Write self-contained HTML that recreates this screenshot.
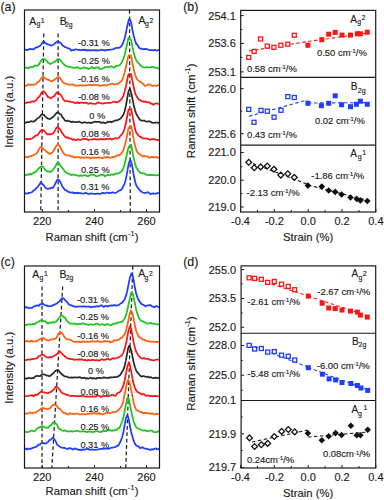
<!DOCTYPE html><html><head><meta charset="utf-8"><style>html,body{margin:0;padding:0;background:#fff;overflow:hidden}svg{display:block}</style></head><body><svg width="384" height="500" viewBox="0 0 384 500" font-family='"Liberation Sans", sans-serif'>
<rect width="384" height="500" fill="#fff"/>
<text x="0.4" y="11.2" font-size="12.4" text-anchor="start" fill="#1c1c1c" stroke="#1c1c1c" stroke-width="0.15" >(a)</text>
<text x="183.2" y="11.2" font-size="12.4" text-anchor="start" fill="#1c1c1c" stroke="#1c1c1c" stroke-width="0.15" >(b)</text>
<text x="0.4" y="265.6" font-size="12.4" text-anchor="start" fill="#1c1c1c" stroke="#1c1c1c" stroke-width="0.15" >(c)</text>
<text x="183.2" y="265.6" font-size="12.4" text-anchor="start" fill="#1c1c1c" stroke="#1c1c1c" stroke-width="0.15" >(d)</text>
<defs><clipPath id="clipa"><rect x="24.5" y="10" width="135.0" height="202"/></clipPath></defs>
<g clip-path="url(#clipa)">
<line x1="43.8" y1="33.5" x2="40.7" y2="212" stroke="#1e1e1e" stroke-width="1.25" stroke-dasharray="3.8,2.6"/>
<line x1="58.1" y1="33.5" x2="58.1" y2="212" stroke="#1e1e1e" stroke-width="1.25" stroke-dasharray="3.8,2.6"/>
<line x1="129.5" y1="10" x2="130.3" y2="212" stroke="#1e1e1e" stroke-width="1.25" stroke-dasharray="3.8,2.6"/>
<polyline points="24.5,49.39 25.8,49.76 27.1,50.13 28.4,49.6 29.7,48.93 31,49.05 32.3,49.2 33.6,49.34 34.9,48.19 36.2,47.31 37.5,47.28 38.8,46.52 40.1,45.76 41.4,44.19 42.7,42.28 43.8,41.44 45.3,43.16 46.6,43.72 47.9,44.37 49.2,44.76 50.5,45.43 51.8,45.51 53.1,44.84 54.4,43.91 55.7,42.73 57,41.72 58.1,41.63 59.6,42.37 60.9,43.06 62.2,45.26 63.5,45.88 64.8,47.03 66.1,47.25 67.4,48.14 68.7,48.35 70,48.96 71.3,50.62 72.6,50.02 73.9,50.18 75.2,49.38 76.5,49.49 77.8,49.97 79.1,49.89 80.4,50.07 81.7,50.05 83,49.59 84.3,50.06 85.6,49.69 86.9,50.66 88.2,50.1 89.5,50.35 90.8,50.18 92.1,50.49 93.4,49.98 94.7,50.41 96,50.13 97.3,50.57 98.6,50.49 99.9,50.23 101.2,49.71 102.5,50.1 103.8,50.12 105.1,50.59 106.4,49.91 107.7,49.95 109,49.89 110.3,49.7 111.6,49.49 112.9,49.27 114.2,48.71 115.5,48.11 116.8,47.86 118.1,47.83 119.4,47.74 120.7,46.74 122,45.15 123.3,42.49 124.6,38.53 125.9,32.85 127.2,26.36 128.5,20.94 129.5,18.52 131.1,22.25 132.4,29.77 133.7,35.66 135,40.54 136.3,43.81 137.6,45.07 138.9,47.53 140.2,48.62 141.5,48.64 142.8,49.06 144.1,49.11 145.4,48.81 146.7,49.09 148,49.49 149.3,50.05 150.6,50.17 151.9,50 153.2,50.51 154.5,49.88 155.8,50.27 157.1,50.61 158.4,50.19 159.7,49.39" fill="none" stroke="#1f3cff" stroke-width="1.75" stroke-linejoin="round"/>
<polyline points="24.5,67.48 25.8,67.7 27.1,67.86 28.4,68.29 29.7,67.31 31,67.17 32.3,67.22 33.6,66.7 34.9,65.26 36.2,65.56 37.5,65.79 38.8,64.6 40.1,62.27 41.4,60.28 42.7,58.8 43.8,59.2 45.3,59.65 46.6,60.8 47.9,62.64 49.2,63.08 50.5,64.12 51.8,63.29 53.1,62.52 54.4,61.91 55.7,61.01 57,59.61 58.1,59.04 59.6,59.09 60.9,60.82 62.2,62.51 63.5,63.85 64.8,65.29 66.1,65.8 67.4,66.68 68.7,66.92 70,66.97 71.3,67.26 72.6,67.6 73.9,67.98 75.2,67.64 76.5,67.62 77.8,67.17 79.1,68.24 80.4,68.68 81.7,68.2 83,67.88 84.3,67.42 85.6,67.82 86.9,68.02 88.2,68.94 89.5,68.54 90.8,67.93 92.1,66.96 93.4,68.13 94.7,68.14 96,67.38 97.3,67.78 98.6,67.2 99.9,69.05 101.2,68.88 102.5,68.54 103.8,68.05 105.1,66.97 106.4,67.29 107.7,66.78 109,67.4 110.3,66.45 111.6,66.45 112.9,67.24 114.2,67.63 115.5,66.43 116.8,65.51 118.1,65.78 119.4,65.42 120.7,63.75 122,61.96 123.3,59.32 124.6,55.17 125.9,49.78 127.2,43.86 128.5,37.78 131.1,40.19 132.4,46.34 133.7,52.51 135,57 136.3,60.57 137.6,62.36 138.9,63.38 140.2,65.16 141.5,66.48 142.8,66.99 144.1,67.56 145.4,67.48 146.7,67.12 148,67.38 149.3,67.36 150.6,67.1 151.9,66.78 153.2,66.76 154.5,67.41 155.8,67.79 157.1,67.73 158.4,68.52 159.7,68.37" fill="none" stroke="#1ec41e" stroke-width="1.75" stroke-linejoin="round"/>
<polyline points="24.5,85.65 25.8,85.95 27.1,85.18 28.4,84.27 29.7,84.92 31,84.5 32.3,85 33.6,84.63 34.9,84.48 36.2,83.96 37.5,82.03 38.8,81.64 40.1,79.98 41.4,78.22 42.7,76.96 43.5,77.18 44,77.52 45.3,78.59 46.6,78.88 47.9,79.98 49.2,79.94 50.5,80.84 51.8,81.31 53.1,80.48 54.4,79.82 55.7,78.65 57,77.84 58.1,76.89 59.6,77.55 60.9,79 62.2,81.51 63.5,82.86 64.8,83.28 66.1,83.85 67.4,84.23 68.7,84.56 70,84.63 71.3,84.69 72.6,84.39 73.9,84.57 75.2,85.65 76.5,85.7 77.8,85.55 79.1,85.39 80.4,85.45 81.7,85.61 83,85.28 84.3,85.49 85.6,85.61 86.9,85.25 88.2,85.08 89.5,84.91 90.8,84.81 92.1,85.58 93.4,84.55 94.7,84.97 96,85 97.3,84.99 98.6,85.28 99.9,85.83 101.2,85.61 102.5,85.39 103.8,85.07 105.1,85.09 106.4,85.5 107.7,85.08 109,84.52 110.3,84.14 111.6,83.95 112.9,83.63 114.2,84.4 115.5,84.25 116.8,83.69 118.1,83.83 119.4,82.54 120.7,81.83 122,80.39 123.3,76.95 124.6,72.69 125.9,67.31 127.2,61.3 128.5,55.38 131.1,55.61 132.4,62.96 133.7,69.25 135,74.24 136.3,77.67 137.6,80.03 138.9,80.89 140.2,81.91 141.5,82.49 142.8,83.64 144.1,84.97 145.4,85.96 146.7,85.2 148,84.36 149.3,84.6 150.6,84.53 151.9,85.78 153.2,85.78 154.5,85.27 155.8,85.77 157.1,85.86 158.4,85.01 159.7,85.1" fill="none" stroke="#ff6010" stroke-width="1.75" stroke-linejoin="round"/>
<polyline points="24.5,102.82 25.8,102.78 27.1,102.72 28.4,102.4 29.7,102.35 31,101.84 32.3,101.28 33.6,101.75 34.9,101.11 36.2,100.32 37.5,98.38 38.8,97.1 40.1,95.63 41.4,92.75 42.7,91.79 43.3,91.22 44,91.6 45.3,92.92 46.6,94.9 47.9,96.9 49.2,97.4 50.5,98.44 51.8,97.62 53.1,96.61 54.4,95.95 55.7,93.82 57,92.38 58.1,92.5 59.6,94.08 60.9,94.97 62.2,97.35 63.5,99.64 64.8,100.8 66.1,101.01 67.4,101.17 68.7,101.53 70,101.47 71.3,101.91 72.6,102.22 73.9,102.44 75.2,103.15 76.5,102.92 77.8,102.34 79.1,103.16 80.4,102.66 81.7,102.72 83,102.9 84.3,102.9 85.6,102.64 86.9,102.84 88.2,103.96 89.5,103.3 90.8,103.2 92.1,103.68 93.4,103.74 94.7,103.76 96,103.81 97.3,102.64 98.6,102.56 99.9,102.92 101.2,103.23 102.5,103.67 103.8,103.5 105.1,103.1 106.4,102.99 107.7,102.79 109,102.84 110.3,102.97 111.6,102.52 112.9,102.01 114.2,101.63 115.5,102.11 116.8,102.18 118.1,101.79 119.4,101.12 120.7,100.13 122,98.27 123.3,96.03 124.6,91.75 125.9,86.65 127.2,79.95 128.5,74.13 131.1,74.13 132.4,80.62 133.7,87.32 135,92.89 136.3,95.75 137.6,97.69 138.9,99.73 140.2,100.13 141.5,101.17 142.8,101.38 144.1,101.81 145.4,101.39 146.7,102.36 148,102.36 149.3,102.25 150.6,103.51 151.9,103.55 153.2,104.78 154.5,104.06 155.8,103.45 157.1,103.39 158.4,104.01 159.7,103.63" fill="none" stroke="#ff1414" stroke-width="1.75" stroke-linejoin="round"/>
<polyline points="24.5,122.68 25.8,122.71 27.1,122.06 28.4,122.12 29.7,121.79 31,121.19 32.3,121.64 33.6,121.53 34.9,120.91 36.2,119.78 37.5,118.21 38.8,117.74 40.1,116.4 41.4,114.54 42.3,114.58 44,114.88 45.3,116.47 46.6,117.75 47.9,118.6 49.2,118.9 50.5,118.8 51.8,117.78 53.1,116.96 54.4,115.57 55.7,113.92 57,112.56 58.1,112.31 59.6,113.98 60.9,114.39 62.2,116.83 63.5,118.3 64.8,120.41 66.1,121.07 67.4,120.49 68.7,121.25 70,121.33 71.3,122.09 72.6,121.65 73.9,121.91 75.2,122.07 76.5,122.19 77.8,122.07 79.1,121.52 80.4,122.26 81.7,122.84 83,122.66 84.3,122.2 85.6,122.51 86.9,122.81 88.2,122.63 89.5,122.63 90.8,123.22 92.1,122.42 93.4,122.3 94.7,121.67 96,121.88 97.3,121.95 98.6,121.87 99.9,121.93 101.2,122.99 102.5,122.6 103.8,122.43 105.1,123.29 106.4,122.69 107.7,121.67 109,122.04 110.3,121.58 111.6,122.36 112.9,121.39 114.2,121.09 115.5,120.35 116.8,120.5 118.1,119.78 119.4,119.41 120.7,118.41 122,116.77 123.3,114.94 124.6,111.48 125.9,105.88 127.2,98.52 128.5,91.38 129.85,88.51 131.1,92.46 132.4,98.47 133.7,104.93 135,110.26 136.3,113.87 137.6,116.34 138.9,118.24 140.2,120.09 141.5,120.55 142.8,120.72 144.1,120.49 145.4,121.27 146.7,121.61 148,121.35 149.3,121.35 150.6,121.85 151.9,122.57 153.2,122.77 154.5,122.72 155.8,122.5 157.1,122.7 158.4,122.67 159.7,123.6" fill="none" stroke="#2a2a2a" stroke-width="1.75" stroke-linejoin="round"/>
<polyline points="24.5,138.84 25.8,138.83 27.1,139.43 28.4,138.94 29.7,139.3 31,138.66 32.3,138.21 33.6,137.47 34.9,136.26 36.2,135.26 37.5,135.29 38.8,133.52 40.1,131.52 41.4,130.12 42.1,129.7 42.7,129.96 44,130.66 45.3,132.1 46.6,133.89 47.9,134.4 49.2,134.22 50.5,134.37 51.8,133.84 53.1,133.31 54.4,131.39 55.7,129.07 57,127.37 58.1,127.66 59.6,128.7 60.9,130.92 62.2,133.03 63.5,134.83 64.8,136.38 66.1,137.61 67.4,137.13 68.7,138.36 70,138.48 71.3,138.51 72.6,139.76 73.9,139.32 75.2,140.06 76.5,140.04 77.8,139.22 79.1,139.53 80.4,139.8 81.7,139.58 83,138.57 84.3,138.97 85.6,139.22 86.9,138.96 88.2,140.08 89.5,139.72 90.8,139.5 92.1,139.44 93.4,139.21 94.7,139.1 96,139.41 97.3,139.63 98.6,139.38 99.9,139.42 101.2,138.88 102.5,139.41 103.8,139.09 105.1,139.32 106.4,138.91 107.7,138.85 109,139.07 110.3,138.5 111.6,139.71 112.9,139.09 114.2,138.67 115.5,138.03 116.8,138.5 118.1,138.32 119.4,137.36 120.7,135.57 122,134.1 123.3,132.27 124.6,128.48 125.9,122.98 127.2,116.23 128.5,109.6 131.1,108.82 132.4,115.1 133.7,122.11 135,128.82 136.3,132.81 137.6,134.22 138.9,135.9 140.2,136.86 141.5,137.42 142.8,138.35 144.1,138.33 145.4,138.45 146.7,138.57 148,138.83 149.3,139.59 150.6,139.77 151.9,139.01 153.2,139.09 154.5,139.01 155.8,139.68 157.1,139.76 158.4,140.1 159.7,139.87" fill="none" stroke="#ff1414" stroke-width="1.75" stroke-linejoin="round"/>
<polyline points="24.5,156.5 25.8,157.02 27.1,157.06 28.4,157.08 29.7,156.19 31,156.17 32.3,155.58 33.6,154.96 34.9,154.62 36.2,153.78 37.5,151.95 38.8,149.65 40.1,147.32 41.5,146.9 42.7,148.36 44,149.73 45.3,150.26 46.6,151.51 47.9,152.75 49.2,153.75 50.5,153.71 51.8,152.82 53.1,151.52 54.4,149.22 55.7,147.05 57,145.13 58.1,144.33 59.6,145.97 60.9,148.24 62.2,150.78 63.5,153.14 64.8,154.4 66.1,155.18 67.4,155.5 68.7,155.3 70,155.94 71.3,156.63 72.6,156.37 73.9,157.28 75.2,157.08 76.5,157.34 77.8,157.2 79.1,156.78 80.4,158.02 81.7,157.24 83,157.78 84.3,157.42 85.6,157.63 86.9,157.27 88.2,157.28 89.5,157.85 90.8,158.54 92.1,157.68 93.4,157.65 94.7,158.02 96,157.52 97.3,157.85 98.6,157.36 99.9,157.7 101.2,157.77 102.5,158.1 103.8,157.87 105.1,157.08 106.4,157.47 107.7,156.85 109,157.29 110.3,157.74 111.6,157.48 112.9,156.77 114.2,157.05 115.5,156.58 116.8,155.55 118.1,155.17 119.4,155.32 120.7,154.02 122,152.6 123.3,150.15 124.6,146.01 125.9,141.16 127.2,135.03 128.5,128.27 131.1,126.26 132.4,131.74 133.7,139.7 135,145.58 136.3,149.82 137.6,152.68 138.9,153.73 140.2,154.45 141.5,155.4 142.8,156.58 144.1,155.85 145.4,156.25 146.7,156.33 148,156.98 149.3,157.72 150.6,157.38 151.9,156.87 153.2,157.23 154.5,157.28 155.8,156.81 157.1,157.64 158.4,157.45 159.7,157.89" fill="none" stroke="#ff6010" stroke-width="1.75" stroke-linejoin="round"/>
<polyline points="24.5,174.59 25.8,175.24 27.1,174.38 28.4,174.93 29.7,173.83 31,174.48 32.3,173.79 33.6,172.62 34.9,172.17 36.2,171.53 37.5,169.79 38.8,168.23 40.1,167.2 41,166.78 42.7,166.38 44,168.25 45.3,170.02 46.6,171.01 47.9,171.78 49.2,171.26 50.5,172.04 51.8,171.08 53.1,169.55 54.4,167.94 55.7,165.71 57,163.31 58.1,162.18 59.6,164.05 60.9,166.41 62.2,167.75 63.5,169.46 64.8,171.39 66.1,172.46 67.4,173.27 68.7,173.98 70,174.24 71.3,175.08 72.6,174.64 73.9,174.59 75.2,174.94 76.5,175.32 77.8,175.55 79.1,175.98 80.4,175.38 81.7,175.82 83,175.74 84.3,175.09 85.6,175.19 86.9,176.18 88.2,176.08 89.5,175.52 90.8,174.45 92.1,174.67 93.4,174.79 94.7,175.16 96,176.26 97.3,176.09 98.6,175.82 99.9,175.16 101.2,174.73 102.5,174.93 103.8,174.89 105.1,176.3 106.4,175.46 107.7,174.95 109,175.39 110.3,175.09 111.6,174.31 112.9,174.93 114.2,174.4 115.5,173.57 116.8,173.68 118.1,173.51 119.4,172.68 120.7,172.13 122,170.96 123.3,168.18 124.6,164.07 125.9,158.71 127.2,153.03 128.5,147.07 131.1,144.78 132.4,151.17 133.7,158.38 135,163.41 136.3,167.61 137.6,169.28 138.9,171.46 140.2,172.64 141.5,173.2 142.8,173.49 144.1,173.49 145.4,174.14 146.7,175 148,174.79 149.3,175.13 150.6,174.84 151.9,175.15 153.2,174.79 154.5,175.25 155.8,175.24 157.1,175.48 158.4,175.23 159.7,174.9" fill="none" stroke="#1ec41e" stroke-width="1.75" stroke-linejoin="round"/>
<polyline points="24.5,193.05 25.8,193.42 27.1,193.7 28.4,192.89 29.7,192.81 31,192.51 32.3,191.88 33.6,190.33 34.9,189.77 36.2,188.09 37.5,187.08 38.8,185.25 40.1,183.68 40.8,182.05 41.4,182.9 42.7,184.5 44,185.55 45.3,187.65 46.6,188.54 47.9,188.9 49.2,188.7 50.5,188.14 51.8,187.53 53.1,187.81 54.4,185.42 55.7,182.82 57,180.19 58.1,179.3 59.6,180.71 60.9,183.09 62.2,186.23 63.5,187.98 64.8,189.79 66.1,190.12 67.4,191.43 68.7,191.82 70,192.44 71.3,192.53 72.6,192.34 73.9,193.21 75.2,192.98 76.5,193.05 77.8,192.82 79.1,193.21 80.4,193.16 81.7,193.45 83,193.63 84.3,193.29 85.6,192.85 86.9,193.43 88.2,193.91 89.5,194.03 90.8,193.32 92.1,193.74 93.4,193.83 94.7,193.83 96,193.88 97.3,193.58 98.6,193.66 99.9,193.98 101.2,193.5 102.5,192.87 103.8,193.13 105.1,193.33 106.4,192.53 107.7,192.62 109,193.13 110.3,192.98 111.6,192.94 112.9,192.24 114.2,192.71 115.5,193.12 116.8,192.26 118.1,191.37 119.4,190.38 120.7,190.19 122,188.81 123.3,186.28 124.6,183.62 125.9,178.86 127.2,172.38 128.5,164.31 130.2,159.63 131.1,161.58 132.4,167.04 133.7,174.75 135,181.15 136.3,185.46 137.6,187.57 138.9,189.06 140.2,190.76 141.5,191.79 142.8,192.55 144.1,193.03 145.4,192.83 146.7,192.71 148,192.13 149.3,193.05 150.6,194.15 151.9,193.55 153.2,193.31 154.5,193.71 155.8,193.81 157.1,193.15 158.4,193.15 159.7,193.01" fill="none" stroke="#1f3cff" stroke-width="1.75" stroke-linejoin="round"/>
</g>
<rect x="24.5" y="10" width="135.0" height="202" fill="none" stroke="#1a1a1a" stroke-width="1.2"/>
<line x1="42.3" y1="212" x2="42.3" y2="209" stroke="#1a1a1a" stroke-width="1" />
<text x="42.3" y="224.6" font-size="11" text-anchor="middle" fill="#1c1c1c" stroke="#1c1c1c" stroke-width="0.15" >220</text>
<line x1="94.4" y1="212" x2="94.4" y2="209" stroke="#1a1a1a" stroke-width="1" />
<text x="94.4" y="224.6" font-size="11" text-anchor="middle" fill="#1c1c1c" stroke="#1c1c1c" stroke-width="0.15" >240</text>
<line x1="146.5" y1="212" x2="146.5" y2="209" stroke="#1a1a1a" stroke-width="1" />
<text x="146.5" y="224.6" font-size="11" text-anchor="middle" fill="#1c1c1c" stroke="#1c1c1c" stroke-width="0.15" >260</text>
<line x1="68.35" y1="212" x2="68.35" y2="210" stroke="#1a1a1a" stroke-width="1" />
<line x1="120.45" y1="212" x2="120.45" y2="210" stroke="#1a1a1a" stroke-width="1" />
<g transform="translate(77.9,45.7) scale(0.955,1)">
<text x="0" y="0" font-size="9.7" text-anchor="start" fill="#1c1c1c" stroke="#1c1c1c" stroke-width="0.15" >-0.31 %</text>
</g>
<g transform="translate(78.1,64.3) scale(0.955,1)">
<text x="0" y="0" font-size="9.7" text-anchor="start" fill="#1c1c1c" stroke="#1c1c1c" stroke-width="0.15" >-0.25 %</text>
</g>
<g transform="translate(77.9,81.7) scale(0.955,1)">
<text x="0" y="0" font-size="9.7" text-anchor="start" fill="#1c1c1c" stroke="#1c1c1c" stroke-width="0.15" >-0.16 %</text>
</g>
<g transform="translate(77.9,99.7) scale(0.955,1)">
<text x="0" y="0" font-size="9.7" text-anchor="start" fill="#1c1c1c" stroke="#1c1c1c" stroke-width="0.15" >-0.08 %</text>
</g>
<g transform="translate(89.2,118.7) scale(0.955,1)">
<text x="0" y="0" font-size="9.7" text-anchor="start" fill="#1c1c1c" stroke="#1c1c1c" stroke-width="0.15" >0 %</text>
</g>
<g transform="translate(80.9,136.5) scale(0.955,1)">
<text x="0" y="0" font-size="9.7" text-anchor="start" fill="#1c1c1c" stroke="#1c1c1c" stroke-width="0.15" >0.08 %</text>
</g>
<g transform="translate(80.9,154.5) scale(0.955,1)">
<text x="0" y="0" font-size="9.7" text-anchor="start" fill="#1c1c1c" stroke="#1c1c1c" stroke-width="0.15" >0.16 %</text>
</g>
<g transform="translate(80.9,172.5) scale(0.955,1)">
<text x="0" y="0" font-size="9.7" text-anchor="start" fill="#1c1c1c" stroke="#1c1c1c" stroke-width="0.15" >0.25 %</text>
</g>
<g transform="translate(80.8,190.3) scale(0.955,1)">
<text x="0" y="0" font-size="9.7" text-anchor="start" fill="#1c1c1c" stroke="#1c1c1c" stroke-width="0.15" >0.31 %</text>
</g>
<text x="92" y="241" font-size="11.3" text-anchor="middle" fill="#1c1c1c" stroke="#1c1c1c" stroke-width="0.15" >Raman shift (cm<tspan font-size="7.2" dy="-5.2" dx="0.3">-1</tspan><tspan dy="5.2" dx="0.2">)</tspan></text>
<text transform="translate(12.8,111.7) rotate(-90)" font-size="11.4" text-anchor="middle" fill="#1c1c1c" stroke="#1c1c1c" stroke-width="0.15">Intensity (a.u.)</text>
<text x="29.2" y="25.1" font-size="10.4" text-anchor="start" fill="#1c1c1c" stroke="#1c1c1c" stroke-width="0.15" >A</text>
<text x="36.4" y="26" font-size="6.8" text-anchor="start" fill="#1c1c1c" stroke="#1c1c1c" stroke-width="0.15" >g</text>
<text x="40.7" y="23.1" font-size="6.8" text-anchor="start" fill="#1c1c1c" stroke="#1c1c1c" stroke-width="0.15" >1</text>
<text x="59.8" y="25" font-size="10.4" text-anchor="start" fill="#1c1c1c" stroke="#1c1c1c" stroke-width="0.15" >B</text>
<text x="65" y="27.1" font-size="6.8" text-anchor="start" fill="#1c1c1c" stroke="#1c1c1c" stroke-width="0.15" >2g</text>
<text x="138.5" y="23.6" font-size="10.4" text-anchor="start" fill="#1c1c1c" stroke="#1c1c1c" stroke-width="0.15" >A</text>
<text x="145" y="25.9" font-size="6.8" text-anchor="start" fill="#1c1c1c" stroke="#1c1c1c" stroke-width="0.15" >g</text>
<text x="149.5" y="22.6" font-size="6.8" text-anchor="start" fill="#1c1c1c" stroke="#1c1c1c" stroke-width="0.15" >2</text>
<defs><clipPath id="clipc"><rect x="24.5" y="266" width="135.0" height="202"/></clipPath></defs>
<g clip-path="url(#clipc)">
<line x1="42" y1="286.5" x2="42" y2="468" stroke="#1e1e1e" stroke-width="1.25" stroke-dasharray="3.8,2.6"/>
<line x1="62.7" y1="286.5" x2="51.8" y2="468" stroke="#1e1e1e" stroke-width="1.25" stroke-dasharray="3.8,2.6"/>
<line x1="132.8" y1="266" x2="125.8" y2="468" stroke="#1e1e1e" stroke-width="1.25" stroke-dasharray="3.8,2.6"/>
<polyline points="24.5,307.9 25.8,307.09 27.1,307.36 28.4,307.89 29.7,308.07 31,307.9 32.3,307.83 33.6,306.49 34.9,306.12 36.2,305.59 37.5,305.27 38.8,306 40.1,304.16 41.4,304.09 42.7,303.48 44,304.66 45.3,305.49 46.6,305.28 47.9,306.34 49.2,305.98 50.5,306.27 51.8,305.87 53.1,305.13 54.4,304.59 55.7,304.03 57,303.48 58.3,302.19 59.6,301.52 60.9,299.28 62.3,298.08 63.5,298.41 64.8,299.8 66.1,301.09 67.4,302.46 68.7,304.24 70,304.95 71.3,305.35 72.6,305.89 73.9,306.54 75.2,306.72 76.5,306.93 77.8,306.52 79.1,306.5 80.4,306.3 81.7,306.53 83,306.35 84.3,306.47 85.6,306.62 86.9,306.68 88.2,306.69 89.5,306.61 90.8,307.33 92.1,306.96 93.4,306.51 94.7,306.81 96,306.4 97.3,306.21 98.6,306.6 99.9,306.03 101.2,305.1 102.5,306.14 103.8,306.9 105.1,306.07 106.4,305.99 107.7,306.54 109,305.66 110.3,305.67 111.6,305.47 112.9,305.72 114.2,304.98 115.5,305.72 116.8,305.45 118.1,305.3 119.4,304.68 120.7,303.24 122,302.8 123.3,301.14 124.6,299.43 125.9,295.92 127.2,291.18 128.5,284.79 129.8,278.16 131.5,273.42 132.4,274.31 133.7,280.5 135,288.28 136.3,294.1 137.6,297.8 138.9,300.64 140.2,302.36 141.5,304.01 142.8,304.62 144.1,305.23 145.4,306.43 146.7,305.59 148,305.46 149.3,305.19 150.6,305.2 151.9,306.29 153.2,306.59 154.5,307.33 155.8,306.19 157.1,306.17 158.4,307.16 159.7,307.45" fill="none" stroke="#1f3cff" stroke-width="1.75" stroke-linejoin="round"/>
<polyline points="24.5,324.93 25.8,325.03 27.1,324.69 28.4,324.46 29.7,324.32 31,324.51 32.3,324.06 33.6,323.91 34.9,324.11 36.2,322.83 37.5,322.01 38.8,321.69 40.1,320.67 41.4,320 42.7,320.91 44,321.19 45.3,321.46 46.6,322.5 47.9,323.7 49.2,322.76 50.5,322.48 51.8,322.57 53.1,322.1 54.4,322.75 55.7,321.89 57,320.44 58.3,319.25 59.6,317.11 60.9,315.45 62,315.19 63.5,317.22 64.8,317.45 66.1,319.56 67.4,321.46 68.7,322.41 70,323.58 71.3,323.67 72.6,323.72 73.9,323.73 75.2,323.51 76.5,324.52 77.8,323.84 79.1,324.02 80.4,323.96 81.7,323.86 83,323.23 84.3,323.73 85.6,324.19 86.9,324.41 88.2,324.81 89.5,324.58 90.8,324.27 92.1,324.53 93.4,324.8 94.7,324.26 96,323.75 97.3,323.72 98.6,324.57 99.9,324.92 101.2,324.27 102.5,324.38 103.8,324.71 105.1,325.04 106.4,324.32 107.7,324.14 109,324.7 110.3,325.33 111.6,325.17 112.9,323.9 114.2,323.9 115.5,323.47 116.8,323.22 118.1,322.66 119.4,322.23 120.7,321.86 122,321.92 123.3,320.64 124.6,318.61 125.9,315.43 127.2,310.62 128.5,304.67 129.8,298.36 131.1,293.06 131.8,292.67 132.4,292.87 133.7,297.67 135,303.79 136.3,310.36 137.6,314.19 138.9,318.29 140.2,319.81 141.5,321.13 142.8,321.4 144.1,322.08 145.4,322.37 146.7,323.49 148,323.73 149.3,323.32 150.6,322.89 151.9,323.54 153.2,323.71 154.5,323.56 155.8,324.25 157.1,324.26 158.4,324.42 159.7,324.22" fill="none" stroke="#1ec41e" stroke-width="1.75" stroke-linejoin="round"/>
<polyline points="24.5,341.5 25.8,341.41 27.1,340.86 28.4,341.51 29.7,341.68 31,340.8 32.3,341.11 33.6,341.6 34.9,341.32 36.2,341.47 37.5,340.65 38.8,340.11 40.1,339.02 41.4,338.54 42.7,338.05 44,338.5 45.3,339.4 46.6,340.03 47.9,340.58 49.2,340.33 50.5,339.6 51.8,339.64 53.1,339.07 54.4,339.11 55.7,338.48 57,336.81 58.3,334.11 59.6,332.48 60.5,332.34 62.2,333.26 63.5,335.4 64.8,337.26 66.1,338.68 67.4,339.39 68.7,339.48 70,339.71 71.3,340.25 72.6,341.2 73.9,341.81 75.2,341.89 76.5,341.72 77.8,341.81 79.1,341.95 80.4,342.23 81.7,342.2 83,341.19 84.3,341.8 85.6,341.85 86.9,341.52 88.2,341.79 89.5,341.82 90.8,341.68 92.1,340.94 93.4,341.36 94.7,341.73 96,341.63 97.3,340.93 98.6,341.47 99.9,341.81 101.2,341.72 102.5,341.76 103.8,341.43 105.1,341.12 106.4,341.45 107.7,341.19 109,341.25 110.3,342.52 111.6,341.95 112.9,341.37 114.2,340.26 115.5,340.36 116.8,340.52 118.1,339.75 119.4,339.31 120.7,337.84 122,337.71 123.3,336.13 124.6,334.33 125.9,331.34 127.2,325.92 128.5,319.87 129.8,313.44 131.1,310.34 132.4,313.02 133.7,318.97 135,326.07 136.3,331.25 137.6,334.04 138.9,336.78 140.2,337.78 141.5,338.18 142.8,339.71 144.1,339.52 145.4,340.6 146.7,340.79 148,341.26 149.3,341.38 150.6,341.76 151.9,341.65 153.2,341.74 154.5,341.68 155.8,342.04 157.1,341.6 158.4,342.02 159.7,342.44" fill="none" stroke="#ff6010" stroke-width="1.75" stroke-linejoin="round"/>
<polyline points="24.5,359.99 25.8,360.13 27.1,359.74 28.4,359.6 29.7,359.69 31,359.38 32.3,358.89 33.6,358.85 34.9,358.68 36.2,358.33 37.5,357.87 38.8,356.03 40.1,355.94 41.4,354.92 42.7,354.51 44,355.15 45.3,356.32 46.6,357.34 47.9,357.4 49.2,357.63 50.5,356.88 51.8,357.04 53.1,356.6 54.4,355.66 55.7,354.95 57,354.01 58.3,352.5 59.5,351.16 60.9,352.62 62.2,353.73 63.5,355.24 64.8,356.24 66.1,357.48 67.4,358.33 68.7,358.72 70,358.88 71.3,359.08 72.6,359.14 73.9,359.81 75.2,359.53 76.5,359.61 77.8,359.65 79.1,359.46 80.4,359.62 81.7,359.19 83,359.8 84.3,360.14 85.6,359.94 86.9,360.64 88.2,359.96 89.5,360.23 90.8,360.32 92.1,359.94 93.4,359.88 94.7,360.32 96,360.16 97.3,360.18 98.6,360.63 99.9,360.33 101.2,359.38 102.5,359.32 103.8,359.92 105.1,359.76 106.4,359.24 107.7,358.59 109,359.2 110.3,359.89 111.6,358.97 112.9,358.06 114.2,358.63 115.5,358.29 116.8,358.01 118.1,357.57 119.4,356.7 120.7,356.22 122,355.17 123.3,352.83 124.6,348.88 125.9,344.25 127.2,337.33 128.5,330.57 130,326.07 131.1,328.72 132.4,335.37 133.7,342.66 135,347.92 136.3,351.92 137.6,354.13 138.9,356.23 140.2,357.45 141.5,358.35 142.8,358.34 144.1,358.13 145.4,358.64 146.7,358.91 148,358.89 149.3,359.51 150.6,359.99 151.9,360.02 153.2,360.38 154.5,360.27 155.8,359.69 157.1,359.61 158.4,359.7 159.7,360.19" fill="none" stroke="#ff1414" stroke-width="1.75" stroke-linejoin="round"/>
<polyline points="24.5,378.58 25.8,378.38 27.1,378.62 28.4,377.93 29.7,377.86 31,378.43 32.3,378.16 33.6,378.18 34.9,376.81 36.2,376.06 37.5,375.77 38.8,376.03 40.1,376.01 41.4,374.86 42.7,374.32 44,374.42 45.3,374.77 46.6,375.62 47.9,375.58 49.2,376.29 50.5,375.79 51.8,374.46 53.1,373.49 54.4,371.94 55.7,370.74 57.3,370.01 58.3,370.02 59.6,371.77 60.9,373.41 62.2,374.5 63.5,375.52 64.8,376.42 66.1,376.6 67.4,376.68 68.7,377.62 70,377.61 71.3,377.42 72.6,377.82 73.9,377.25 75.2,377.65 76.5,377.28 77.8,377.52 79.1,377.08 80.4,377.34 81.7,378.13 83,378.06 84.3,377.6 85.6,378.62 86.9,378.1 88.2,378.74 89.5,378.2 90.8,377.57 92.1,378.64 93.4,378.18 94.7,378.45 96,378.75 97.3,377.83 98.6,377.97 99.9,377.75 101.2,378.12 102.5,378 103.8,377.41 105.1,377.65 106.4,378 107.7,377.67 109,377.82 110.3,377.36 111.6,377.25 112.9,377.26 114.2,377.03 115.5,377.21 116.8,376.91 118.1,376.4 119.4,375.62 120.7,374.28 122,371.92 123.3,369.88 124.6,366.4 125.9,360.39 127.2,353.15 128.5,346.96 129.5,345.61 131.1,349.79 132.4,356.05 133.7,362.55 135,367.23 136.3,370.72 137.6,372.67 138.9,373.96 140.2,375.78 141.5,376.63 142.8,376.08 144.1,376.23 145.4,376.63 146.7,376.92 148,376.72 149.3,377.62 150.6,377.05 151.9,377.79 153.2,378.16 154.5,377.92 155.8,377.73 157.1,377.96 158.4,378.12 159.7,377.29" fill="none" stroke="#2a2a2a" stroke-width="1.75" stroke-linejoin="round"/>
<polyline points="24.5,395.81 25.8,396.25 27.1,396.14 28.4,395.91 29.7,395.5 31,395.33 32.3,395.11 33.6,396.31 34.9,394.96 36.2,395.19 37.5,394.43 38.8,393.44 40.1,392.41 41.4,391.41 42.7,392 44,392.34 45.3,392.68 46.6,392.96 47.9,393.17 49.2,392.48 50.5,392.08 51.8,391.1 53.1,390.25 54.4,388.85 55.7,386.64 56.5,386.65 57,387.41 58.3,387.97 59.6,389.47 60.9,391.84 62.2,392.94 63.5,393.63 64.8,393.86 66.1,394.7 67.4,394.91 68.7,395.42 70,395.82 71.3,396.17 72.6,395.96 73.9,395.82 75.2,396.02 76.5,396.08 77.8,396.24 79.1,396.05 80.4,396.09 81.7,395.98 83,395.94 84.3,396.23 85.6,396.77 86.9,396.33 88.2,396.59 89.5,396.6 90.8,396.51 92.1,396.7 93.4,396.27 94.7,396.52 96,396.52 97.3,394.95 98.6,395.8 99.9,396.27 101.2,397.01 102.5,396.07 103.8,396.09 105.1,396.17 106.4,395.61 107.7,396.19 109,396.08 110.3,395.43 111.6,394.86 112.9,394.8 114.2,395.75 115.5,395.87 116.8,393.72 118.1,392.6 119.4,392.49 120.7,391.12 122,388.7 123.3,385.69 124.6,380.66 125.9,374.15 127.2,367.15 128.8,362.17 129.8,364.79 131.1,370.65 132.4,378.17 133.7,383.98 135,387.86 136.3,390.52 137.6,392.15 138.9,392.48 140.2,393.49 141.5,394.44 142.8,394.18 144.1,394.24 145.4,395.42 146.7,395.93 148,395.25 149.3,395.83 150.6,395.94 151.9,396.45 153.2,396.17 154.5,396.13 155.8,395.91 157.1,396.22 158.4,396.26 159.7,396.08" fill="none" stroke="#ff1414" stroke-width="1.75" stroke-linejoin="round"/>
<polyline points="24.5,413.73 25.8,413.43 27.1,413.81 28.4,413.23 29.7,412.67 31,412.55 32.3,413.21 33.6,412.66 34.9,412.63 36.2,412.3 37.5,411.16 38.8,410.55 40.1,409.52 41.4,408.46 42.7,407.91 44,408.45 45.3,408.55 46.6,409.06 47.9,408.91 49.2,408.74 50.5,407.79 51.8,405.9 53.1,404.77 54.5,404.36 55.7,404.8 57,406.1 58.3,408.27 59.6,408.7 60.9,410.09 62.2,411.49 63.5,412.93 64.8,412.6 66.1,413.51 67.4,414.35 68.7,414.62 70,413.05 71.3,413.82 72.6,413.83 73.9,414.21 75.2,413.91 76.5,413.62 77.8,413.67 79.1,414.42 80.4,414.5 81.7,414.07 83,414.16 84.3,414.41 85.6,414.4 86.9,414.15 88.2,413.78 89.5,413.57 90.8,413.6 92.1,413.56 93.4,413.11 94.7,412.96 96,413.83 97.3,413.38 98.6,413.08 99.9,413.45 101.2,414.21 102.5,414.44 103.8,413.82 105.1,413.23 106.4,413.12 107.7,412.86 109,412.81 110.3,413.13 111.6,412.51 112.9,412.2 114.2,412.1 115.5,411.9 116.8,411.16 118.1,410.33 119.4,409.06 120.7,407.44 122,405.35 123.3,401.26 124.6,394.35 125.9,388.33 127.2,382.01 128.3,379.5 129.8,383.62 131.1,389.52 132.4,396.32 133.7,402.7 135,407.22 136.3,409.99 137.6,410.44 138.9,411.26 140.2,412.15 141.5,411.89 142.8,413.16 144.1,412.81 145.4,413.2 146.7,412.82 148,413.35 149.3,413.48 150.6,414.05 151.9,413.41 153.2,413.63 154.5,414.53 155.8,413.7 157.1,413.99 158.4,414.18 159.7,413.89" fill="none" stroke="#ff6010" stroke-width="1.75" stroke-linejoin="round"/>
<polyline points="24.5,431.4 25.8,432 27.1,432.1 28.4,431.85 29.7,431.54 31,430.72 32.3,430.74 33.6,431.31 34.9,431.03 36.2,429.58 37.5,428.21 38.8,427.65 40.1,427.18 41.4,426.35 42.7,426.22 44,426.86 45.3,427.66 46.6,427.72 47.9,427.9 49.2,426.31 50.5,425.58 51.8,424.31 53.1,422.35 54,422.91 55.7,423.29 57,424.65 58.3,427.78 59.6,429.1 60.9,429.63 62.2,430.51 63.5,430.98 64.8,430.37 66.1,430.87 67.4,431.55 68.7,431.27 70,431.28 71.3,431.11 72.6,431.56 73.9,431.25 75.2,431.12 76.5,430.81 77.8,430.81 79.1,431.3 80.4,431.64 81.7,431.44 83,431.07 84.3,431.49 85.6,431.69 86.9,432.17 88.2,431.63 89.5,431.42 90.8,431.72 92.1,432.27 93.4,431.84 94.7,431.62 96,431.15 97.3,431.16 98.6,431.7 99.9,431.88 101.2,432.05 102.5,430.92 103.8,431.43 105.1,430.87 106.4,431.2 107.7,430.03 109,430.39 110.3,430.12 111.6,430.78 112.9,430.44 114.2,430.58 115.5,429.65 116.8,429.87 118.1,428.4 119.4,427.88 120.7,425.26 122,421.75 123.3,417.85 124.6,411.46 125.9,404.41 127.2,398.37 127.9,397.61 128.5,398.58 129.8,403.58 131.1,411.01 132.4,416.24 133.7,421.74 135,424.7 136.3,427.42 137.6,428.24 138.9,428.73 140.2,429.25 141.5,429.95 142.8,430.53 144.1,430.45 145.4,430.35 146.7,430.91 148,431.38 149.3,430.56 150.6,430.53 151.9,430.71 153.2,431.83 154.5,432.16 155.8,432.15 157.1,432.04 158.4,431.33 159.7,431.97" fill="none" stroke="#1ec41e" stroke-width="1.75" stroke-linejoin="round"/>
<polyline points="24.5,448.85 25.8,448.53 27.1,449.49 28.4,448.42 29.7,449.04 31,448.7 32.3,447.92 33.6,447.83 34.9,447.07 36.2,446.78 37.5,445.77 38.8,444.41 40.1,444.71 41.4,443.07 42.7,443.11 44,443.15 45.3,443.72 46.6,443.02 47.9,442.27 49.2,440.09 50.5,439.81 51.8,438.57 53,437.49 54.4,439.21 55.7,441.4 57,444.47 58.3,445.38 59.6,446.52 60.9,447.21 62.2,447.82 63.5,447.92 64.8,447.93 66.1,448.51 67.4,449.08 68.7,448.38 70,448.13 71.3,448.52 72.6,449.52 73.9,449.14 75.2,448.36 76.5,449.1 77.8,449.42 79.1,450.09 80.4,449.65 81.7,450.22 83,449.34 84.3,449.64 85.6,449.44 86.9,448.79 88.2,448.89 89.5,449.61 90.8,449.84 92.1,449.3 93.4,449.68 94.7,449.75 96,449.77 97.3,449.5 98.6,449.36 99.9,448.79 101.2,448.83 102.5,448.9 103.8,448.52 105.1,448.49 106.4,448.61 107.7,448.61 109,448.88 110.3,448 111.6,447.74 112.9,447.73 114.2,447.22 115.5,446.98 116.8,446.08 118.1,445.69 119.4,443.84 120.7,440.9 122,437.77 123.3,433.1 124.6,425.04 125.9,418.33 127.3,414.98 128.5,418.14 129.8,425.22 131.1,431.69 132.4,436.43 133.7,440.93 135,443.91 136.3,445.5 137.6,446.36 138.9,446.61 140.2,448.28 141.5,447.64 142.8,447.34 144.1,448.36 145.4,448.6 146.7,448.95 148,449.02 149.3,449.67 150.6,449.89 151.9,449.19 153.2,449.56 154.5,448.83 155.8,448.3 157.1,449.32 158.4,449.1 159.7,448.29" fill="none" stroke="#1f3cff" stroke-width="1.75" stroke-linejoin="round"/>
</g>
<rect x="24.5" y="266" width="135.0" height="202" fill="none" stroke="#1a1a1a" stroke-width="1.2"/>
<line x1="42.3" y1="468" x2="42.3" y2="465" stroke="#1a1a1a" stroke-width="1" />
<text x="42.3" y="480.6" font-size="11" text-anchor="middle" fill="#1c1c1c" stroke="#1c1c1c" stroke-width="0.15" >220</text>
<line x1="94.4" y1="468" x2="94.4" y2="465" stroke="#1a1a1a" stroke-width="1" />
<text x="94.4" y="480.6" font-size="11" text-anchor="middle" fill="#1c1c1c" stroke="#1c1c1c" stroke-width="0.15" >240</text>
<line x1="146.5" y1="468" x2="146.5" y2="465" stroke="#1a1a1a" stroke-width="1" />
<text x="146.5" y="480.6" font-size="11" text-anchor="middle" fill="#1c1c1c" stroke="#1c1c1c" stroke-width="0.15" >260</text>
<line x1="68.35" y1="468" x2="68.35" y2="466" stroke="#1a1a1a" stroke-width="1" />
<line x1="120.45" y1="468" x2="120.45" y2="466" stroke="#1a1a1a" stroke-width="1" />
<g transform="translate(76.9,303.3) scale(0.955,1)">
<text x="0" y="0" font-size="9.7" text-anchor="start" fill="#1c1c1c" stroke="#1c1c1c" stroke-width="0.15" >-0.31 %</text>
</g>
<g transform="translate(77.2,320.4) scale(0.955,1)">
<text x="0" y="0" font-size="9.7" text-anchor="start" fill="#1c1c1c" stroke="#1c1c1c" stroke-width="0.15" >-0.25 %</text>
</g>
<g transform="translate(77.2,338.5) scale(0.955,1)">
<text x="0" y="0" font-size="9.7" text-anchor="start" fill="#1c1c1c" stroke="#1c1c1c" stroke-width="0.15" >-0.16 %</text>
</g>
<g transform="translate(77.2,356.7) scale(0.955,1)">
<text x="0" y="0" font-size="9.7" text-anchor="start" fill="#1c1c1c" stroke="#1c1c1c" stroke-width="0.15" >-0.08 %</text>
</g>
<g transform="translate(88,374.4) scale(0.955,1)">
<text x="0" y="0" font-size="9.7" text-anchor="start" fill="#1c1c1c" stroke="#1c1c1c" stroke-width="0.15" >0 %</text>
</g>
<g transform="translate(80.5,394.8) scale(0.955,1)">
<text x="0" y="0" font-size="9.7" text-anchor="start" fill="#1c1c1c" stroke="#1c1c1c" stroke-width="0.15" >0.08 %</text>
</g>
<g transform="translate(80.5,412.4) scale(0.955,1)">
<text x="0" y="0" font-size="9.7" text-anchor="start" fill="#1c1c1c" stroke="#1c1c1c" stroke-width="0.15" >0.16 %</text>
</g>
<g transform="translate(80.5,430) scale(0.955,1)">
<text x="0" y="0" font-size="9.7" text-anchor="start" fill="#1c1c1c" stroke="#1c1c1c" stroke-width="0.15" >0.25 %</text>
</g>
<g transform="translate(80.4,447.7) scale(0.955,1)">
<text x="0" y="0" font-size="9.7" text-anchor="start" fill="#1c1c1c" stroke="#1c1c1c" stroke-width="0.15" >0.31 %</text>
</g>
<text x="92" y="495" font-size="11.3" text-anchor="middle" fill="#1c1c1c" stroke="#1c1c1c" stroke-width="0.15" >Raman shift (cm<tspan font-size="7.2" dy="-5.2" dx="0.3">-1</tspan><tspan dy="5.2" dx="0.2">)</tspan></text>
<text transform="translate(12.8,367.7) rotate(-90)" font-size="11.4" text-anchor="middle" fill="#1c1c1c" stroke="#1c1c1c" stroke-width="0.15">Intensity (a.u.)</text>
<text x="32.3" y="278.4" font-size="10.4" text-anchor="start" fill="#1c1c1c" stroke="#1c1c1c" stroke-width="0.15" >A</text>
<text x="39.6" y="279.95" font-size="6.8" text-anchor="start" fill="#1c1c1c" stroke="#1c1c1c" stroke-width="0.15" >g</text>
<text x="43.9" y="275.5" font-size="6.8" text-anchor="start" fill="#1c1c1c" stroke="#1c1c1c" stroke-width="0.15" >1</text>
<text x="59.4" y="278.4" font-size="10.4" text-anchor="start" fill="#1c1c1c" stroke="#1c1c1c" stroke-width="0.15" >B</text>
<text x="65.7" y="280.45" font-size="6.8" text-anchor="start" fill="#1c1c1c" stroke="#1c1c1c" stroke-width="0.15" >2g</text>
<text x="138.3" y="277.3" font-size="10.4" text-anchor="start" fill="#1c1c1c" stroke="#1c1c1c" stroke-width="0.15" >A</text>
<text x="144.6" y="279.85" font-size="6.8" text-anchor="start" fill="#1c1c1c" stroke="#1c1c1c" stroke-width="0.15" >g</text>
<text x="149" y="276.1" font-size="6.8" text-anchor="start" fill="#1c1c1c" stroke="#1c1c1c" stroke-width="0.15" >2</text>
<text x="350.2" y="22.5" font-size="10.0" text-anchor="start" fill="#1c1c1c" stroke="#1c1c1c" stroke-width="0.15" >A</text>
<text x="357.3" y="23.6" font-size="7" text-anchor="start" fill="#1c1c1c" stroke="#1c1c1c" stroke-width="0.15" >g</text>
<text x="361.4" y="20.07" font-size="7" text-anchor="start" fill="#1c1c1c" stroke="#1c1c1c" stroke-width="0.15" >2</text>
<text x="350.7" y="89.7" font-size="10.0" text-anchor="start" fill="#1c1c1c" stroke="#1c1c1c" stroke-width="0.15" >B</text>
<text x="357.8" y="92.57" font-size="7" text-anchor="start" fill="#1c1c1c" stroke="#1c1c1c" stroke-width="0.15" >2g</text>
<text x="350.2" y="157.3" font-size="10.0" text-anchor="start" fill="#1c1c1c" stroke="#1c1c1c" stroke-width="0.15" >A</text>
<text x="357.7" y="159.3" font-size="7" text-anchor="start" fill="#1c1c1c" stroke="#1c1c1c" stroke-width="0.15" >g</text>
<text x="362.2" y="155.27" font-size="7" text-anchor="start" fill="#1c1c1c" stroke="#1c1c1c" stroke-width="0.15" >1</text>
<text x="351.5" y="277.3" font-size="10.0" text-anchor="start" fill="#1c1c1c" stroke="#1c1c1c" stroke-width="0.15" >A</text>
<text x="358.5" y="280.1" font-size="7" text-anchor="start" fill="#1c1c1c" stroke="#1c1c1c" stroke-width="0.15" >g</text>
<text x="362.8" y="276.07" font-size="7" text-anchor="start" fill="#1c1c1c" stroke="#1c1c1c" stroke-width="0.15" >2</text>
<text x="351.9" y="344.5" font-size="10.0" text-anchor="start" fill="#1c1c1c" stroke="#1c1c1c" stroke-width="0.15" >B</text>
<text x="358.6" y="347.37" font-size="7" text-anchor="start" fill="#1c1c1c" stroke="#1c1c1c" stroke-width="0.15" >2g</text>
<text x="351.5" y="412.9" font-size="10.0" text-anchor="start" fill="#1c1c1c" stroke="#1c1c1c" stroke-width="0.15" >A</text>
<text x="358.1" y="415.6" font-size="7" text-anchor="start" fill="#1c1c1c" stroke="#1c1c1c" stroke-width="0.15" >g</text>
<text x="363.4" y="410.07" font-size="7" text-anchor="start" fill="#1c1c1c" stroke="#1c1c1c" stroke-width="0.15" >1</text>
<line x1="249" y1="51" x2="308" y2="41.5" stroke="#ff1414" stroke-width="1.1" stroke-dasharray="3.5,2.5"/>
<line x1="308" y1="41.5" x2="368" y2="33" stroke="#ff1414" stroke-width="1.1" stroke-dasharray="3.5,2.5"/>
<rect x="246.75" y="55.4" width="4" height="4" fill="#fff" stroke="#ff1414" stroke-width="1.3"/>
<rect x="252.2" y="49.4" width="4" height="4" fill="#fff" stroke="#ff1414" stroke-width="1.3"/>
<rect x="258.6" y="37" width="4" height="4" fill="#fff" stroke="#ff1414" stroke-width="1.3"/>
<rect x="265.3" y="44.1" width="4" height="4" fill="#fff" stroke="#ff1414" stroke-width="1.3"/>
<rect x="271.9" y="45.3" width="4" height="4" fill="#fff" stroke="#ff1414" stroke-width="1.3"/>
<rect x="278.8" y="43.2" width="4" height="4" fill="#fff" stroke="#ff1414" stroke-width="1.3"/>
<rect x="285.8" y="42.2" width="4" height="4" fill="#fff" stroke="#ff1414" stroke-width="1.3"/>
<rect x="292.3" y="33.3" width="4" height="4" fill="#fff" stroke="#ff1414" stroke-width="1.3"/>
<rect x="305.4" y="42.7" width="5" height="5" fill="#ff1414"/>
<rect x="319.3" y="37.2" width="5" height="5" fill="#ff1414"/>
<rect x="326.2" y="31.7" width="5" height="5" fill="#ff1414"/>
<rect x="332.7" y="29.9" width="5" height="5" fill="#ff1414"/>
<rect x="339.5" y="32.6" width="5" height="5" fill="#ff1414"/>
<rect x="348" y="32.6" width="5" height="5" fill="#ff1414"/>
<rect x="354.9" y="31.3" width="5" height="5" fill="#ff1414"/>
<rect x="357.9" y="31.3" width="5" height="5" fill="#ff1414"/>
<rect x="364.8" y="29.7" width="5" height="5" fill="#ff1414"/>
<line x1="240.7" y1="15.6" x2="243.7" y2="15.6" stroke="#1a1a1a" stroke-width="1" />
<text x="235.8" y="19.5" font-size="11" text-anchor="end" fill="#1c1c1c" stroke="#1c1c1c" stroke-width="0.15" >254.1</text>
<line x1="240.7" y1="43.5" x2="243.7" y2="43.5" stroke="#1a1a1a" stroke-width="1" />
<text x="235.8" y="47.4" font-size="11" text-anchor="end" fill="#1c1c1c" stroke="#1c1c1c" stroke-width="0.15" >253.6</text>
<line x1="240.7" y1="71.9" x2="243.7" y2="71.9" stroke="#1a1a1a" stroke-width="1" />
<text x="235.8" y="75.8" font-size="11" text-anchor="end" fill="#1c1c1c" stroke="#1c1c1c" stroke-width="0.15" >253.1</text>
<line x1="240.7" y1="29.5" x2="242.3" y2="29.5" stroke="#1a1a1a" stroke-width="1" />
<line x1="240.7" y1="57.4" x2="242.3" y2="57.4" stroke="#1a1a1a" stroke-width="1" />
<text x="247" y="72" font-size="9.45" text-anchor="start" fill="#1c1c1c" stroke="#1c1c1c" stroke-width="0.15" >0.58 cm<tspan font-size="5.86" dy="-2.9">-1</tspan><tspan dy="2.9">/%</tspan></text>
<text x="317" y="56" font-size="9.45" text-anchor="start" fill="#1c1c1c" stroke="#1c1c1c" stroke-width="0.15" >0.50 cm<tspan font-size="5.86" dy="-2.9">-1</tspan><tspan dy="2.9">/%</tspan></text>
<line x1="249" y1="116.3" x2="307.4" y2="99.9" stroke="#1f3cff" stroke-width="1.1" stroke-dasharray="3.5,2.5"/>
<line x1="308" y1="103" x2="368" y2="102.6" stroke="#1f3cff" stroke-width="1.1" stroke-dasharray="3.5,2.5"/>
<rect x="246.75" y="107.4" width="4" height="4" fill="#fff" stroke="#1f3cff" stroke-width="1.3"/>
<rect x="252" y="120.3" width="4" height="4" fill="#fff" stroke="#1f3cff" stroke-width="1.3"/>
<rect x="259" y="108.4" width="4" height="4" fill="#fff" stroke="#1f3cff" stroke-width="1.3"/>
<rect x="265.3" y="109.2" width="4" height="4" fill="#fff" stroke="#1f3cff" stroke-width="1.3"/>
<rect x="272.1" y="115.2" width="4" height="4" fill="#fff" stroke="#1f3cff" stroke-width="1.3"/>
<rect x="279" y="108.3" width="4" height="4" fill="#fff" stroke="#1f3cff" stroke-width="1.3"/>
<rect x="285.8" y="94.6" width="4" height="4" fill="#fff" stroke="#1f3cff" stroke-width="1.3"/>
<rect x="292.3" y="95.5" width="4" height="4" fill="#fff" stroke="#1f3cff" stroke-width="1.3"/>
<rect x="305.4" y="100.8" width="5" height="5" fill="#1f3cff"/>
<rect x="318.9" y="103.2" width="5" height="5" fill="#1f3cff"/>
<rect x="326.2" y="100.8" width="5" height="5" fill="#1f3cff"/>
<rect x="332.7" y="93.3" width="5" height="5" fill="#1f3cff"/>
<rect x="339.1" y="102.2" width="5" height="5" fill="#1f3cff"/>
<rect x="348" y="104.2" width="5" height="5" fill="#1f3cff"/>
<rect x="353.9" y="101.8" width="5" height="5" fill="#1f3cff"/>
<rect x="357.9" y="98.7" width="5" height="5" fill="#1f3cff"/>
<rect x="364.8" y="101.8" width="5" height="5" fill="#1f3cff"/>
<line x1="240.7" y1="88.7" x2="243.7" y2="88.7" stroke="#1a1a1a" stroke-width="1" />
<text x="235.8" y="92.6" font-size="11" text-anchor="end" fill="#1c1c1c" stroke="#1c1c1c" stroke-width="0.15" >226.0</text>
<line x1="240.7" y1="133.7" x2="243.7" y2="133.7" stroke="#1a1a1a" stroke-width="1" />
<text x="235.8" y="137.6" font-size="11" text-anchor="end" fill="#1c1c1c" stroke="#1c1c1c" stroke-width="0.15" >225.6</text>
<line x1="240.7" y1="111.2" x2="242.3" y2="111.2" stroke="#1a1a1a" stroke-width="1" />
<text x="247" y="137.9" font-size="9.45" text-anchor="start" fill="#1c1c1c" stroke="#1c1c1c" stroke-width="0.15" >0.43 cm<tspan font-size="5.86" dy="-2.9">-1</tspan><tspan dy="2.9">/%</tspan></text>
<text x="315" y="123.9" font-size="9.45" text-anchor="start" fill="#1c1c1c" stroke="#1c1c1c" stroke-width="0.15" >0.02 cm<tspan font-size="5.86" dy="-2.9">-1</tspan><tspan dy="2.9">/%</tspan></text>
<line x1="247.3" y1="161.4" x2="307.4" y2="184.2" stroke="#111" stroke-width="1.1" stroke-dasharray="3.5,2.5"/>
<line x1="308" y1="185" x2="368" y2="200.5" stroke="#111" stroke-width="1.1" stroke-dasharray="3.5,2.5"/>
<path d="M248.75 159.4L251.65 162.3L248.75 165.2L245.85 162.3Z" fill="#fff" stroke="#111" stroke-width="1.3"/>
<path d="M254.2 164.9L257.1 167.8L254.2 170.7L251.3 167.8Z" fill="#fff" stroke="#111" stroke-width="1.3"/>
<path d="M260.6 164L263.5 166.9L260.6 169.8L257.7 166.9Z" fill="#fff" stroke="#111" stroke-width="1.3"/>
<path d="M267.3 163.1L270.2 166L267.3 168.9L264.4 166Z" fill="#fff" stroke="#111" stroke-width="1.3"/>
<path d="M273.9 166.3L276.8 169.2L273.9 172.1L271 169.2Z" fill="#fff" stroke="#111" stroke-width="1.3"/>
<path d="M280.8 172.2L283.7 175.1L280.8 178L277.9 175.1Z" fill="#fff" stroke="#111" stroke-width="1.3"/>
<path d="M287.8 170.9L290.7 173.8L287.8 176.7L284.9 173.8Z" fill="#fff" stroke="#111" stroke-width="1.3"/>
<path d="M294.3 174.5L297.2 177.4L294.3 180.3L291.4 177.4Z" fill="#fff" stroke="#111" stroke-width="1.3"/>
<path d="M307.9 182.3L311.2 185.6L307.9 188.9L304.6 185.6Z" fill="#111"/>
<path d="M321.8 183.3L325.1 186.6L321.8 189.9L318.5 186.6Z" fill="#111"/>
<path d="M328.7 187.2L332 190.5L328.7 193.8L325.4 190.5Z" fill="#111"/>
<path d="M335.2 188.6L338.5 191.9L335.2 195.2L331.9 191.9Z" fill="#111"/>
<path d="M341.6 191.2L344.9 194.5L341.6 197.8L338.3 194.5Z" fill="#111"/>
<path d="M350.5 194.2L353.8 197.5L350.5 200.8L347.2 197.5Z" fill="#111"/>
<path d="M356.8 195.6L360.1 198.9L356.8 202.2L353.5 198.9Z" fill="#111"/>
<path d="M360.4 197.1L363.7 200.4L360.4 203.7L357.1 200.4Z" fill="#111"/>
<path d="M367.3 197.7L370.6 201L367.3 204.3L364 201Z" fill="#111"/>
<line x1="240.7" y1="152.5" x2="243.7" y2="152.5" stroke="#1a1a1a" stroke-width="1" />
<text x="235.8" y="156.4" font-size="11" text-anchor="end" fill="#1c1c1c" stroke="#1c1c1c" stroke-width="0.15" >221.0</text>
<line x1="240.7" y1="180.2" x2="243.7" y2="180.2" stroke="#1a1a1a" stroke-width="1" />
<text x="235.8" y="184.1" font-size="11" text-anchor="end" fill="#1c1c1c" stroke="#1c1c1c" stroke-width="0.15" >220.0</text>
<line x1="240.7" y1="207" x2="243.7" y2="207" stroke="#1a1a1a" stroke-width="1" />
<text x="235.8" y="210.9" font-size="11" text-anchor="end" fill="#1c1c1c" stroke="#1c1c1c" stroke-width="0.15" >219.0</text>
<line x1="240.7" y1="166.8" x2="242.3" y2="166.8" stroke="#1a1a1a" stroke-width="1" />
<line x1="240.7" y1="193.6" x2="242.3" y2="193.6" stroke="#1a1a1a" stroke-width="1" />
<text x="246.6" y="195.9" font-size="9.45" text-anchor="start" fill="#1c1c1c" stroke="#1c1c1c" stroke-width="0.15" >-2.13 cm<tspan font-size="5.86" dy="-2.9">-1</tspan><tspan dy="2.9">/%</tspan></text>
<text x="311.3" y="179" font-size="9.45" text-anchor="start" fill="#1c1c1c" stroke="#1c1c1c" stroke-width="0.15" >-1.86 cm<tspan font-size="5.86" dy="-2.9">-1</tspan><tspan dy="2.9">/%</tspan></text>
<line x1="240.7" y1="77.4" x2="375.7" y2="77.4" stroke="#1a1a1a" stroke-width="1.1" />
<line x1="240.7" y1="145.1" x2="375.7" y2="145.1" stroke="#1a1a1a" stroke-width="1.1" />
<rect x="240.7" y="10.4" width="135.0" height="201.6" fill="none" stroke="#1a1a1a" stroke-width="1.2"/>
<line x1="240.52" y1="212" x2="240.52" y2="209" stroke="#1a1a1a" stroke-width="1" />
<text x="240.52" y="225" font-size="11" text-anchor="middle" fill="#1c1c1c" stroke="#1c1c1c" stroke-width="0.15" >-0.4</text>
<line x1="274.36" y1="212" x2="274.36" y2="209" stroke="#1a1a1a" stroke-width="1" />
<text x="274.36" y="225" font-size="11" text-anchor="middle" fill="#1c1c1c" stroke="#1c1c1c" stroke-width="0.15" >-0.2</text>
<line x1="308.2" y1="212" x2="308.2" y2="209" stroke="#1a1a1a" stroke-width="1" />
<text x="308.2" y="225" font-size="11" text-anchor="middle" fill="#1c1c1c" stroke="#1c1c1c" stroke-width="0.15" >0.0</text>
<line x1="342.04" y1="212" x2="342.04" y2="209" stroke="#1a1a1a" stroke-width="1" />
<text x="342.04" y="225" font-size="11" text-anchor="middle" fill="#1c1c1c" stroke="#1c1c1c" stroke-width="0.15" >0.2</text>
<line x1="375.88" y1="212" x2="375.88" y2="209" stroke="#1a1a1a" stroke-width="1" />
<text x="375.88" y="225" font-size="11" text-anchor="middle" fill="#1c1c1c" stroke="#1c1c1c" stroke-width="0.15" >0.4</text>
<line x1="257.44" y1="212" x2="257.44" y2="210" stroke="#1a1a1a" stroke-width="1" />
<line x1="291.28" y1="212" x2="291.28" y2="210" stroke="#1a1a1a" stroke-width="1" />
<line x1="325.12" y1="212" x2="325.12" y2="210" stroke="#1a1a1a" stroke-width="1" />
<line x1="358.96" y1="212" x2="358.96" y2="210" stroke="#1a1a1a" stroke-width="1" />
<text x="308.2" y="241" font-size="11.3" text-anchor="middle" fill="#1c1c1c" stroke="#1c1c1c" stroke-width="0.15" >Strain (%)</text>
<text transform="translate(195,110.8) rotate(-90) scale(1.02,0.93)" font-size="11.3" text-anchor="middle" fill="#1c1c1c" stroke="#1c1c1c" stroke-width="0.15">Raman shift (cm<tspan font-size="7.2" dy="-5.2" dx="0.3">-1</tspan><tspan dy="5.2" dx="0.2">)</tspan></text>
<line x1="249" y1="276.5" x2="308" y2="296" stroke="#ff1414" stroke-width="1.1" stroke-dasharray="3.5,2.5"/>
<line x1="308" y1="296" x2="368" y2="316" stroke="#ff1414" stroke-width="1.1" stroke-dasharray="3.5,2.5"/>
<rect x="247.1" y="275.8" width="4" height="4" fill="#fff" stroke="#ff1414" stroke-width="1.3"/>
<rect x="252.6" y="276.4" width="4" height="4" fill="#fff" stroke="#ff1414" stroke-width="1.3"/>
<rect x="259.3" y="277.3" width="4" height="4" fill="#fff" stroke="#ff1414" stroke-width="1.3"/>
<rect x="265.7" y="280.4" width="4" height="4" fill="#fff" stroke="#ff1414" stroke-width="1.3"/>
<rect x="272.3" y="279.5" width="4" height="4" fill="#fff" stroke="#ff1414" stroke-width="1.3"/>
<rect x="279.6" y="282.2" width="4" height="4" fill="#fff" stroke="#ff1414" stroke-width="1.3"/>
<rect x="286.3" y="284.4" width="4" height="4" fill="#fff" stroke="#ff1414" stroke-width="1.3"/>
<rect x="292.7" y="287.7" width="4" height="4" fill="#fff" stroke="#ff1414" stroke-width="1.3"/>
<rect x="305.8" y="293.6" width="5" height="5" fill="#ff1414"/>
<rect x="319.7" y="300.7" width="5" height="5" fill="#ff1414"/>
<rect x="326.2" y="305.5" width="5" height="5" fill="#ff1414"/>
<rect x="332.7" y="306.1" width="5" height="5" fill="#ff1414"/>
<rect x="339.5" y="307.5" width="5" height="5" fill="#ff1414"/>
<rect x="348" y="308.6" width="5" height="5" fill="#ff1414"/>
<rect x="354.9" y="309.6" width="5" height="5" fill="#ff1414"/>
<rect x="357.9" y="312.6" width="5" height="5" fill="#ff1414"/>
<rect x="364.8" y="314.6" width="5" height="5" fill="#ff1414"/>
<line x1="241.1" y1="269.6" x2="244.1" y2="269.6" stroke="#1a1a1a" stroke-width="1" />
<text x="236.2" y="273.5" font-size="11" text-anchor="end" fill="#1c1c1c" stroke="#1c1c1c" stroke-width="0.15" >255.0</text>
<line x1="241.1" y1="298.5" x2="244.1" y2="298.5" stroke="#1a1a1a" stroke-width="1" />
<text x="236.2" y="302.4" font-size="11" text-anchor="end" fill="#1c1c1c" stroke="#1c1c1c" stroke-width="0.15" >253.5</text>
<line x1="241.1" y1="327.3" x2="244.1" y2="327.3" stroke="#1a1a1a" stroke-width="1" />
<text x="236.2" y="331.2" font-size="11" text-anchor="end" fill="#1c1c1c" stroke="#1c1c1c" stroke-width="0.15" >252.0</text>
<line x1="241.1" y1="283.9" x2="242.7" y2="283.9" stroke="#1a1a1a" stroke-width="1" />
<line x1="241.1" y1="313" x2="242.7" y2="313" stroke="#1a1a1a" stroke-width="1" />
<text x="247.3" y="305" font-size="9.45" text-anchor="start" fill="#1c1c1c" stroke="#1c1c1c" stroke-width="0.15" >-2.61 cm<tspan font-size="5.86" dy="-2.9">-1</tspan><tspan dy="2.9">/%</tspan></text>
<text x="317.3" y="295.4" font-size="9.45" text-anchor="start" fill="#1c1c1c" stroke="#1c1c1c" stroke-width="0.15" >-2.67 cm<tspan font-size="5.86" dy="-2.9">-1</tspan><tspan dy="2.9">/%</tspan></text>
<line x1="249" y1="344.5" x2="308" y2="367" stroke="#1f3cff" stroke-width="1.1" stroke-dasharray="3.5,2.5"/>
<line x1="308" y1="367.5" x2="368" y2="390" stroke="#1f3cff" stroke-width="1.1" stroke-dasharray="3.5,2.5"/>
<rect x="247.1" y="343.4" width="4" height="4" fill="#fff" stroke="#1f3cff" stroke-width="1.3"/>
<rect x="252.6" y="347" width="4" height="4" fill="#fff" stroke="#1f3cff" stroke-width="1.3"/>
<rect x="259.3" y="346.5" width="4" height="4" fill="#fff" stroke="#1f3cff" stroke-width="1.3"/>
<rect x="265.7" y="350.1" width="4" height="4" fill="#fff" stroke="#1f3cff" stroke-width="1.3"/>
<rect x="272.3" y="349.6" width="4" height="4" fill="#fff" stroke="#1f3cff" stroke-width="1.3"/>
<rect x="279.6" y="353.2" width="4" height="4" fill="#fff" stroke="#1f3cff" stroke-width="1.3"/>
<rect x="286.3" y="354.3" width="4" height="4" fill="#fff" stroke="#1f3cff" stroke-width="1.3"/>
<rect x="292.7" y="358" width="4" height="4" fill="#fff" stroke="#1f3cff" stroke-width="1.3"/>
<rect x="305.8" y="365.2" width="5" height="5" fill="#1f3cff"/>
<rect x="319.9" y="371.7" width="5" height="5" fill="#1f3cff"/>
<rect x="326.6" y="376.4" width="5" height="5" fill="#1f3cff"/>
<rect x="333.1" y="377.4" width="5" height="5" fill="#1f3cff"/>
<rect x="339.5" y="380" width="5" height="5" fill="#1f3cff"/>
<rect x="348.4" y="381" width="5" height="5" fill="#1f3cff"/>
<rect x="354.9" y="383" width="5" height="5" fill="#1f3cff"/>
<rect x="358.5" y="385.5" width="5" height="5" fill="#1f3cff"/>
<rect x="365.2" y="387.9" width="5" height="5" fill="#1f3cff"/>
<line x1="241.1" y1="345.5" x2="244.1" y2="345.5" stroke="#1a1a1a" stroke-width="1" />
<text x="236.2" y="349.4" font-size="11" text-anchor="end" fill="#1c1c1c" stroke="#1c1c1c" stroke-width="0.15" >228.0</text>
<line x1="241.1" y1="375.2" x2="244.1" y2="375.2" stroke="#1a1a1a" stroke-width="1" />
<text x="236.2" y="379.1" font-size="11" text-anchor="end" fill="#1c1c1c" stroke="#1c1c1c" stroke-width="0.15" >225.0</text>
<line x1="241.1" y1="400.5" x2="244.1" y2="400.5" stroke="#1a1a1a" stroke-width="1" />
<text x="236.2" y="404.4" font-size="11" text-anchor="end" fill="#1c1c1c" stroke="#1c1c1c" stroke-width="0.15" >220.1</text>
<line x1="241.1" y1="360.5" x2="242.7" y2="360.5" stroke="#1a1a1a" stroke-width="1" />
<line x1="241.1" y1="390.3" x2="242.7" y2="390.3" stroke="#1a1a1a" stroke-width="1" />
<text x="247.3" y="376.7" font-size="9.45" text-anchor="start" fill="#1c1c1c" stroke="#1c1c1c" stroke-width="0.15" >-5.48 cm<tspan font-size="5.86" dy="-2.9">-1</tspan><tspan dy="2.9">/%</tspan></text>
<text x="316.8" y="368.9" font-size="9.45" text-anchor="start" fill="#1c1c1c" stroke="#1c1c1c" stroke-width="0.15" >-6.00 cm<tspan font-size="5.86" dy="-2.9">-1</tspan><tspan dy="2.9">/%</tspan></text>
<line x1="252" y1="442" x2="308" y2="430" stroke="#111" stroke-width="1.1" stroke-dasharray="3.5,2.5"/>
<line x1="308" y1="437" x2="368" y2="432" stroke="#111" stroke-width="1.1" stroke-dasharray="3.5,2.5"/>
<path d="M249.5 435L252.4 437.9L249.5 440.8L246.6 437.9Z" fill="#fff" stroke="#111" stroke-width="1.3"/>
<path d="M254.6 443.6L257.5 446.5L254.6 449.4L251.7 446.5Z" fill="#fff" stroke="#111" stroke-width="1.3"/>
<path d="M261.3 441.8L264.2 444.7L261.3 447.6L258.4 444.7Z" fill="#fff" stroke="#111" stroke-width="1.3"/>
<path d="M267.7 440.5L270.6 443.4L267.7 446.3L264.8 443.4Z" fill="#fff" stroke="#111" stroke-width="1.3"/>
<path d="M274.3 433.6L277.2 436.5L274.3 439.4L271.4 436.5Z" fill="#fff" stroke="#111" stroke-width="1.3"/>
<path d="M281.6 428.5L284.5 431.4L281.6 434.3L278.7 431.4Z" fill="#fff" stroke="#111" stroke-width="1.3"/>
<path d="M288.3 426.6L291.2 429.5L288.3 432.4L285.4 429.5Z" fill="#fff" stroke="#111" stroke-width="1.3"/>
<path d="M294.7 429L297.6 431.9L294.7 434.8L291.8 431.9Z" fill="#fff" stroke="#111" stroke-width="1.3"/>
<path d="M307.9 430L311.2 433.3L307.9 436.6L304.6 433.3Z" fill="#111"/>
<path d="M321.8 436.9L325.1 440.2L321.8 443.5L318.5 440.2Z" fill="#111"/>
<path d="M328.7 432.9L332 436.2L328.7 439.5L325.4 436.2Z" fill="#111"/>
<path d="M335.6 429.8L338.9 433.1L335.6 436.4L332.3 433.1Z" fill="#111"/>
<path d="M341.6 431.7L344.9 435L341.6 438.3L338.3 435Z" fill="#111"/>
<path d="M350.9 422.4L354.2 425.7L350.9 429L347.6 425.7Z" fill="#111"/>
<path d="M356.8 431.9L360.1 435.2L356.8 438.5L353.5 435.2Z" fill="#111"/>
<path d="M360.4 431.9L363.7 435.2L360.4 438.5L357.1 435.2Z" fill="#111"/>
<path d="M367.7 426.4L371 429.7L367.7 433L364.4 429.7Z" fill="#111"/>
<line x1="241.1" y1="433.9" x2="244.1" y2="433.9" stroke="#1a1a1a" stroke-width="1" />
<text x="236.2" y="437.8" font-size="11" text-anchor="end" fill="#1c1c1c" stroke="#1c1c1c" stroke-width="0.15" >219.9</text>
<line x1="241.1" y1="467.5" x2="244.1" y2="467.5" stroke="#1a1a1a" stroke-width="1" />
<text x="236.2" y="471.4" font-size="11" text-anchor="end" fill="#1c1c1c" stroke="#1c1c1c" stroke-width="0.15" >219.7</text>
<line x1="241.1" y1="417" x2="242.7" y2="417" stroke="#1a1a1a" stroke-width="1" />
<line x1="241.1" y1="450.5" x2="242.7" y2="450.5" stroke="#1a1a1a" stroke-width="1" />
<text x="247" y="462.5" font-size="9.45" text-anchor="start" fill="#1c1c1c" stroke="#1c1c1c" stroke-width="0.15" >0.24cm<tspan font-size="5.86" dy="-2.9">-1</tspan><tspan dy="2.9">/%</tspan></text>
<text x="323" y="457.4" font-size="9.45" text-anchor="start" fill="#1c1c1c" stroke="#1c1c1c" stroke-width="0.15" >0.08cm<tspan font-size="5.86" dy="-2.9">-1</tspan><tspan dy="2.9">/%</tspan></text>
<line x1="241.1" y1="333.2" x2="375.7" y2="333.2" stroke="#1a1a1a" stroke-width="1.1" />
<line x1="241.1" y1="400.5" x2="375.7" y2="400.5" stroke="#1a1a1a" stroke-width="1.1" />
<rect x="241.1" y="265.9" width="134.6" height="202.10000000000002" fill="none" stroke="#1a1a1a" stroke-width="1.2"/>
<line x1="240.52" y1="468" x2="240.52" y2="465" stroke="#1a1a1a" stroke-width="1" />
<text x="240.52" y="481" font-size="11" text-anchor="middle" fill="#1c1c1c" stroke="#1c1c1c" stroke-width="0.15" >-0.4</text>
<line x1="274.36" y1="468" x2="274.36" y2="465" stroke="#1a1a1a" stroke-width="1" />
<text x="274.36" y="481" font-size="11" text-anchor="middle" fill="#1c1c1c" stroke="#1c1c1c" stroke-width="0.15" >-0.2</text>
<line x1="308.2" y1="468" x2="308.2" y2="465" stroke="#1a1a1a" stroke-width="1" />
<text x="308.2" y="481" font-size="11" text-anchor="middle" fill="#1c1c1c" stroke="#1c1c1c" stroke-width="0.15" >0.0</text>
<line x1="342.04" y1="468" x2="342.04" y2="465" stroke="#1a1a1a" stroke-width="1" />
<text x="342.04" y="481" font-size="11" text-anchor="middle" fill="#1c1c1c" stroke="#1c1c1c" stroke-width="0.15" >0.2</text>
<line x1="375.88" y1="468" x2="375.88" y2="465" stroke="#1a1a1a" stroke-width="1" />
<text x="375.88" y="481" font-size="11" text-anchor="middle" fill="#1c1c1c" stroke="#1c1c1c" stroke-width="0.15" >0.4</text>
<line x1="257.44" y1="468" x2="257.44" y2="466" stroke="#1a1a1a" stroke-width="1" />
<line x1="291.28" y1="468" x2="291.28" y2="466" stroke="#1a1a1a" stroke-width="1" />
<line x1="325.12" y1="468" x2="325.12" y2="466" stroke="#1a1a1a" stroke-width="1" />
<line x1="358.96" y1="468" x2="358.96" y2="466" stroke="#1a1a1a" stroke-width="1" />
<text x="308.2" y="497" font-size="11.3" text-anchor="middle" fill="#1c1c1c" stroke="#1c1c1c" stroke-width="0.15" >Strain (%)</text>
<text transform="translate(195,363.4) rotate(-90) scale(1.02,0.93)" font-size="11.3" text-anchor="middle" fill="#1c1c1c" stroke="#1c1c1c" stroke-width="0.15">Raman shift (cm<tspan font-size="7.2" dy="-5.2" dx="0.3">-1</tspan><tspan dy="5.2" dx="0.2">)</tspan></text>
</svg></body></html>
